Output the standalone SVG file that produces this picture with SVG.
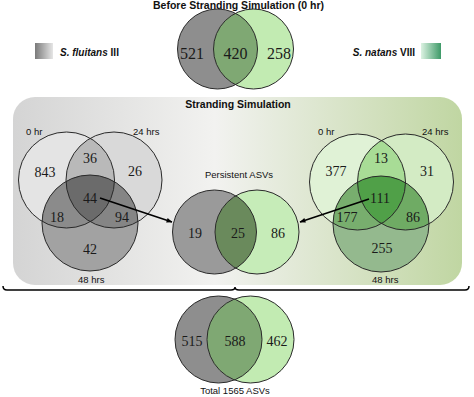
<svg xmlns="http://www.w3.org/2000/svg" width="474" height="397" viewBox="0 0 474 397">
<style>
.num{font-family:"Liberation Serif","Times New Roman",serif;font-size:14px;fill:#1a1a1a;text-anchor:middle}
.big{font-size:16px}
.lbl{font-family:"Liberation Sans",Arial,sans-serif;font-size:9.5px;fill:#111}
.ttl{font-family:"Liberation Sans",Arial,sans-serif;font-size:10.5px;font-weight:bold;fill:#111;text-anchor:middle}
.leg{font-family:"Liberation Sans",Arial,sans-serif;font-size:10px;font-weight:bold;fill:#111}
.ring{fill:none;stroke:#2a2a2a;stroke-width:1}
.con{stroke:#000;stroke-width:1.5;fill:none}
</style>
<defs>
<linearGradient id="panelG" x1="0" y1="0" x2="1" y2="0">
<stop offset="0" stop-color="#d4d4d4"/>
<stop offset="0.45" stop-color="#f2f2f0"/>
<stop offset="1" stop-color="#c0d6a2"/>
</linearGradient>
<linearGradient id="grayLeg" x1="0" y1="0" x2="1" y2="0">
<stop offset="0" stop-color="#7a7a7a"/>
<stop offset="1" stop-color="#e6e6e6"/>
</linearGradient>
<linearGradient id="greenLeg" x1="0" y1="0" x2="1" y2="0">
<stop offset="0" stop-color="#dcf2e2"/>
<stop offset="1" stop-color="#3e9a68"/>
</linearGradient>
<marker id="arr" viewBox="0 0 10 10" refX="9" refY="5" markerWidth="6" markerHeight="6" orient="auto" markerUnits="userSpaceOnUse">
<path d="M0,1 L10,5 L0,9 z" fill="#000"/>
</marker>
<clipPath id="lB"><circle cx="114" cy="180" r="48"/></clipPath>
<clipPath id="lC"><circle cx="90" cy="223" r="48"/></clipPath>
<clipPath id="rB"><circle cx="405.5" cy="182" r="48"/></clipPath>
<clipPath id="rC"><circle cx="381" cy="224" r="48"/></clipPath>
<clipPath id="tB"><circle cx="253.5" cy="49" r="40"/></clipPath>
<clipPath id="pB"><circle cx="257" cy="232" r="42"/></clipPath>
<clipPath id="bB"><circle cx="250.5" cy="339.5" r="43.5"/></clipPath>
</defs>

<rect id="panel" x="13" y="97" width="449" height="188" rx="22" fill="url(#panelG)"/>

<g id="title-top"><text class="ttl" x="238.5" y="9">Before Stranding Simulation (0 hr)</text></g>

<g id="legend-fluitans">
<rect x="35" y="43" width="18" height="16" fill="url(#grayLeg)"/>
<text class="leg" x="60" y="56"><tspan font-style="italic">S. fluitans</tspan> III</text>
</g>
<g id="legend-natans">
<rect x="421" y="43" width="20" height="16" fill="url(#greenLeg)"/>
<text class="leg" x="415" y="56" text-anchor="end"><tspan font-style="italic">S. natans</tspan> VIII</text>
</g>

<g id="venn-before">
<circle cx="217.5" cy="49" r="40" fill="#8e8e8e"/>
<circle cx="253.5" cy="49" r="40" fill="#c2ebb2"/>
<circle cx="217.5" cy="49" r="40" fill="#7fa873" clip-path="url(#tB)"/>
<circle class="ring" cx="217.5" cy="49" r="40"/>
<circle class="ring" cx="253.5" cy="49" r="40"/>
<text class="num big" x="192" y="59">521</text>
<text class="num big" x="235.5" y="59">420</text>
<text class="num big" x="279" y="59">258</text>
</g>

<g id="title-stranding"><text class="ttl" x="238" y="108" font-size="10px">Stranding Simulation</text></g>

<g id="venn-fluitans">
<circle cx="66.5" cy="180" r="48" fill="#e4e4e4"/>
<circle cx="114" cy="180" r="48" fill="#d9d9d9"/>
<circle cx="66.5" cy="180" r="48" fill="#b9b9b9" clip-path="url(#lB)"/>
<circle cx="90" cy="223" r="48" fill="#a2a2a2"/>
<circle cx="66.5" cy="180" r="48" fill="#8b8b8b" clip-path="url(#lC)"/>
<circle cx="114" cy="180" r="48" fill="#858585" clip-path="url(#lC)"/>
<g clip-path="url(#lC)"><circle cx="66.5" cy="180" r="48" fill="#6b6b6b" clip-path="url(#lB)"/></g>
<circle class="ring" cx="66.5" cy="180" r="48"/>
<circle class="ring" cx="114" cy="180" r="48"/>
<circle class="ring" cx="90" cy="223" r="48"/>
<text class="lbl" x="26" y="135">0 hr</text>
<text class="lbl" x="133" y="135">24 hrs</text>
<text class="lbl" x="78" y="283">48 hrs</text>
<text class="num" x="45" y="177">843</text>
<text class="num" x="90" y="163">36</text>
<text class="num" x="135" y="176">26</text>
<text class="num" x="90" y="203">44</text>
<text class="num" x="57" y="222">18</text>
<text class="num" x="122" y="222">94</text>
<text class="num" x="90" y="254">42</text>
</g>

<g id="venn-persistent">
<text class="lbl" x="239" y="178" text-anchor="middle">Persistent ASVs</text>
<circle cx="214.5" cy="232" r="42" fill="#9a9a9a"/>
<circle cx="257" cy="232" r="42" fill="#c6ecb8"/>
<circle cx="214.5" cy="232" r="42" fill="#6a8a5c" clip-path="url(#pB)"/>
<circle class="ring" cx="214.5" cy="232" r="42"/>
<circle class="ring" cx="257" cy="232" r="42"/>
<text class="num" x="195" y="238">19</text>
<text class="num" x="238" y="238">25</text>
<text class="num" x="278" y="238">86</text>
</g>

<g id="venn-natans">
<circle cx="357.5" cy="182" r="48" fill="#e0f2d6"/>
<circle cx="405.5" cy="182" r="48" fill="#d3ebc4"/>
<circle cx="357.5" cy="182" r="48" fill="#a8dc96" clip-path="url(#rB)"/>
<circle cx="381" cy="224" r="48" fill="#94b98e"/>
<circle cx="357.5" cy="182" r="48" fill="#78ae6e" clip-path="url(#rC)"/>
<circle cx="405.5" cy="182" r="48" fill="#6fab64" clip-path="url(#rC)"/>
<g clip-path="url(#rC)"><circle cx="357.5" cy="182" r="48" fill="#50a048" clip-path="url(#rB)"/></g>
<circle class="ring" cx="357.5" cy="182" r="48"/>
<circle class="ring" cx="405.5" cy="182" r="48"/>
<circle class="ring" cx="381" cy="224" r="48"/>
<text class="lbl" x="318" y="135">0 hr</text>
<text class="lbl" x="422" y="135">24 hrs</text>
<text class="lbl" x="372" y="283">48 hrs</text>
<text class="num" x="336" y="176">377</text>
<text class="num" x="381" y="163">13</text>
<text class="num" x="427" y="176">31</text>
<text class="num" x="380" y="203">111</text>
<text class="num" x="347" y="222">177</text>
<text class="num" x="413" y="222">86</text>
<text class="num" x="382" y="253">255</text>
</g>

<g id="connectors">
<line class="con" x1="100" y1="198" x2="172" y2="222" marker-end="url(#arr)"/>
<line class="con" x1="369" y1="199" x2="300" y2="222" marker-end="url(#arr)"/>
<path class="con" d="M3,286 Q3,290 7,290 L231,290 Q235,290 235,287 Q235,290 239,290 L465,290 Q469,290 469,286"/>
</g>

<g id="venn-total">
<circle cx="218.5" cy="339.5" r="43.5" fill="#8e8e8e"/>
<circle cx="250.5" cy="339.5" r="43.5" fill="#c2ebb2"/>
<circle cx="218.5" cy="339.5" r="43.5" fill="#7fa873" clip-path="url(#bB)"/>
<circle class="ring" cx="218.5" cy="339.5" r="43.5"/>
<circle class="ring" cx="250.5" cy="339.5" r="43.5"/>
<text class="num" x="192" y="346" font-size="15px">515</text>
<text class="num" x="235" y="346" font-size="15px">588</text>
<text class="num" x="277" y="346" font-size="15px">462</text>
<text class="lbl" x="235" y="394" text-anchor="middle">Total 1565 ASVs</text>
</g>
</svg>
